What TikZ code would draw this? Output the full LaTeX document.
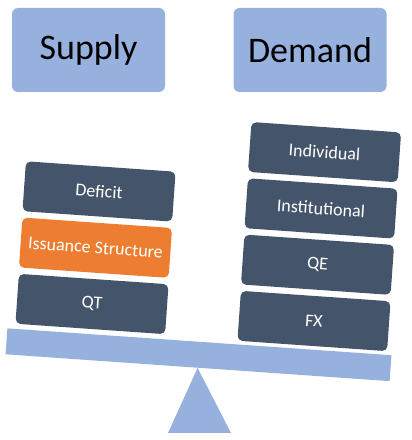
\documentclass[tikz,border=0pt]{standalone}
\usepackage{fontspec}
\setmainfont{Carlito}
\usetikzlibrary{positioning}

\definecolor{beamblue}{HTML}{97B1DF}
\definecolor{slate}{HTML}{44546A}
\definecolor{accorange}{HTML}{ED7D31}

\begin{document}
\begin{tikzpicture}[
  x=1pt, y=1pt,
  side/.style={fill=beamblue, rounded corners=6pt, minimum width=153pt,
               minimum height=84pt, inner sep=0pt, font=\fontsize{36}{40}\selectfont},
  weight/.style={fill=slate, text=white, rounded corners=5pt, rotate=-4,
                 minimum width=150pt, minimum height=50pt, inner sep=0pt,
                 font=\fontsize{18}{20}\selectfont},
  hot/.style={weight, fill=accorange},
  node distance=6pt]

\useasboundingbox (0,0) rectangle (412,440);

% ---- the two sides ----
\node[side] (supply) at (88.5,390) {Supply};
\node[side] (demand) at (310,390) {Demand};

% ---- see-saw ----
\node[fill=beamblue, rotate=-4, minimum width=385pt, minimum height=26pt,
      inner sep=0pt] (beam) at (198.5,85.25) {};
\fill[beamblue] (beam.south) -- (231,7) -- (168,7) -- cycle;

% ---- supply stack ----
\node[weight] (qt) at (92,136) {QT};
\node[hot, above=of qt] (issuance) {Issuance Structure};
\node[weight, above=of issuance] (deficit) {Deficit};

% ---- demand stack ----
\node[weight] (fx) at (314,119) {FX};
\node[weight, above=of fx] (qe) {QE};
\node[weight, above=of qe] (institutional) {Institutional};
\node[weight, above=of institutional] (individual) {Individual};
\end{tikzpicture}
\end{document}
